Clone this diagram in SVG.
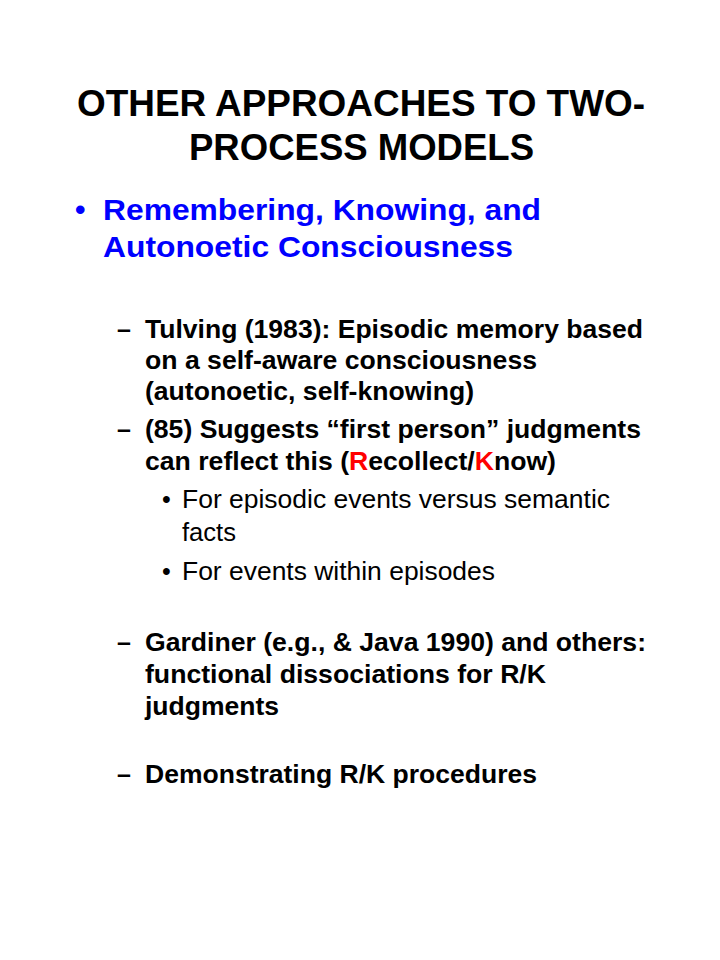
<svg xmlns="http://www.w3.org/2000/svg" width="720" height="960" viewBox="0 0 720 960">
<style>
text{font-family:"Liberation Sans",Arial,sans-serif;fill:#000}
.t{font-size:36px;font-weight:bold}
.b1{font-size:30px;font-weight:bold;fill:#0000ff}
.b2{font-size:25px;font-weight:bold}
.b3{font-size:25px}
.r{fill:#ff0000}
</style>
<rect width="720" height="960" fill="#fff"/>
<g id="title">
<text class="t" x="77" y="116" textLength="568" lengthAdjust="spacingAndGlyphs">OTHER APPROACHES TO TWO-</text>
<text class="t" x="189" y="160" textLength="345" lengthAdjust="spacingAndGlyphs">PROCESS MODELS</text>
</g>
<g id="body">
<text class="b1" x="75" y="220">•</text>
<text class="b1" x="103" y="220" textLength="438" lengthAdjust="spacingAndGlyphs">Remembering, Knowing, and</text>
<text class="b1" x="103" y="257" textLength="410" lengthAdjust="spacingAndGlyphs">Autonoetic Consciousness</text>
<text class="b2" x="117" y="338">–</text>
<text class="b2" x="145" y="338" textLength="498" lengthAdjust="spacingAndGlyphs">Tulving (1983): Episodic memory based</text>
<text class="b2" x="145" y="369" textLength="392" lengthAdjust="spacingAndGlyphs">on a self-aware consciousness</text>
<text class="b2" x="145" y="400" textLength="329" lengthAdjust="spacingAndGlyphs">(autonoetic, self-knowing)</text>
<text class="b2" x="117" y="438">–</text>
<text class="b2" x="145" y="438" textLength="496" lengthAdjust="spacingAndGlyphs">(85) Suggests “first person” judgments</text>
<text class="b2" x="145" y="470" textLength="411" lengthAdjust="spacingAndGlyphs">can reflect this (<tspan class="r">R</tspan>ecollect/<tspan class="r">K</tspan>now)</text>
<text class="b3" x="162" y="508">•</text>
<text class="b3" x="182" y="508" textLength="428" lengthAdjust="spacingAndGlyphs">For episodic events versus semantic</text>
<text class="b3" x="182" y="541" textLength="54" lengthAdjust="spacingAndGlyphs">facts</text>
<text class="b3" x="162" y="580">•</text>
<text class="b3" x="182" y="580" textLength="313" lengthAdjust="spacingAndGlyphs">For events within episodes</text>
<text class="b2" x="117" y="651">–</text>
<text class="b2" x="145" y="651" textLength="501" lengthAdjust="spacingAndGlyphs">Gardiner (e.g., &amp; Java 1990) and others:</text>
<text class="b2" x="145" y="683" textLength="401" lengthAdjust="spacingAndGlyphs">functional dissociations for R/K</text>
<text class="b2" x="145" y="715" textLength="134" lengthAdjust="spacingAndGlyphs">judgments</text>
<text class="b2" x="117" y="783">–</text>
<text class="b2" x="145" y="783" textLength="392" lengthAdjust="spacingAndGlyphs">Demonstrating R/K procedures</text>
</g>
</svg>
